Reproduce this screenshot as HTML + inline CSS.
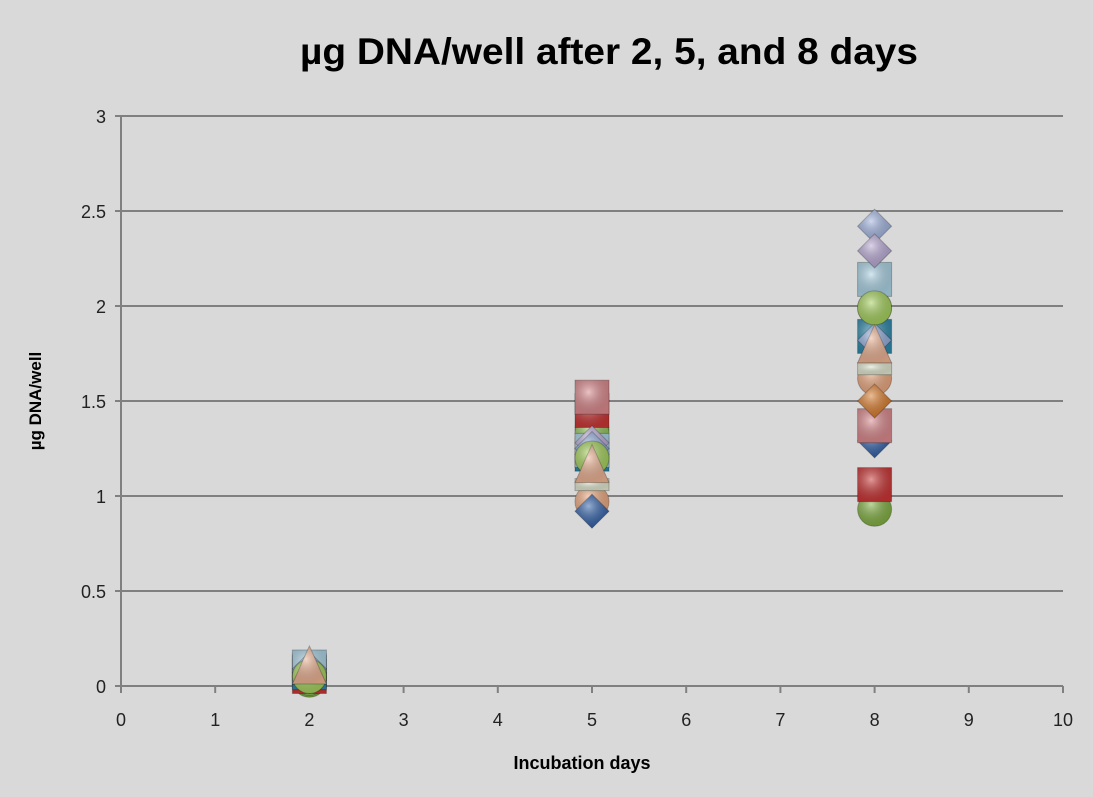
<!DOCTYPE html>
<html><head><meta charset="utf-8">
<style>
html,body{margin:0;padding:0;background:#d9d9d9;}
svg{display:block;font-family:"Liberation Sans",sans-serif;}
</style></head>
<body>
<svg id="chart" width="1093" height="797" viewBox="0 0 1093 797">
<rect width="1093" height="797" fill="#d9d9d9"/>
<text x="609" y="64" text-anchor="middle" font-size="37" font-weight="bold" fill="#000" textLength="618" lengthAdjust="spacingAndGlyphs">µg DNA/well after 2, 5, and 8 days</text>
<text transform="translate(41,401) rotate(-90)" text-anchor="middle" font-size="17" font-weight="bold">µg DNA/well</text>
<text x="582" y="769" text-anchor="middle" font-size="18" font-weight="bold">Incubation days</text>
<g id="grid"></g><g id="marks"></g>
<defs>
<radialGradient id="gl" cx="40%" cy="35%" r="70%"><stop offset="0" stop-color="#fff" stop-opacity="0.5"/><stop offset="1" stop-color="#000" stop-opacity="0.15"/></radialGradient>
</defs>
</svg>
<script>
const xTicks=[0,1,2,3,4,5,6,7,8,9,10];
const yTicks=[0,0.5,1,1.5,2,2.5,3];
const yTickLabels=["0","0.5","1","1.5","2","2.5","3"];
const days=[2,5,8];
const seriesShapes=["circle","circle","square","circle","diamond","square","diamond","square","dash","diamond","square","diamond","diamond","circle","triangle"];
const seriesColors=["#7fae3f","#8fc05a","#c93434","#e9a57c","#2f5fa8","#d9878b","#d87a2a","#2d86a8","#dfe6cf","#9fb2de","#a9d1e3","#b8a8d4","#8fa9d8","#a3cf5a","#eab091"];
const seriesDay2=[0.03,0.04,0.05,0.06,0.05,0.08,0.05,0.07,0.06,0.08,0.1,0.07,0.09,0.05,0.1];
const seriesDay5=[1.35,1.33,1.45,0.97,0.92,1.52,1.25,1.22,1.06,1.22,1.24,1.28,1.25,1.2,1.16];
const seriesDay8=[0.93,1.99,1.06,1.62,1.29,1.37,1.5,1.84,1.67,2.42,2.14,2.29,1.82,1.99,1.79];
const X0=121,X1=1063,Y0=686,Y1=116;
const sx=v=>X0+(v-0)/(10-0)*(X1-X0);
const sy=v=>Y0-(v-0)/(3-0)*(Y0-Y1);
const NS="http://www.w3.org/2000/svg";
const grid=document.getElementById('grid'),marks=document.getElementById('marks');
function mk(tag,attrs,parent){const e=document.createElementNS(NS,tag);for(const k in attrs)e.setAttribute(k,attrs[k]);parent.appendChild(e);return e;}
yTicks.forEach((t,i)=>{
  const l=mk('line',{x1:X0-6,x2:X1,y1:sy(t),y2:sy(t),stroke:'#808080','stroke-width':2},grid);
  
  
  const tx=mk('text',{x:X0-15,y:sy(t)+7,'text-anchor':'end','font-size':18,fill:'#222'},grid);
  tx.textContent=yTickLabels[i];
  
  
});
const ax=mk('line',{x1:X0,x2:X0,y1:Y1,y2:Y0,stroke:'#808080','stroke-width':2},grid);


xTicks.forEach(t=>{
  const l=mk('line',{x1:sx(t),x2:sx(t),y1:Y0,y2:Y0+7,stroke:'#808080','stroke-width':2},grid);
  
  
  const tx=mk('text',{x:sx(t),y:Y0+40,'text-anchor':'middle','font-size':18,fill:'#222'},grid);
  tx.textContent=String(t);
  
  
});
function marker(shape,color,cx,cy){
  const g=mk('g',{},marks);
  const r=17;let e;
  if(shape==='circle')e=mk('circle',{cx,cy,r},g);
  else if(shape==='square')e=mk('rect',{x:cx-r,y:cy-r,width:2*r,height:2*r},g);
  else if(shape==='diamond')e=mk('polygon',{points:`${cx},${cy-r} ${cx+r},${cy} ${cx},${cy+r} ${cx-r},${cy}`},g);
  else if(shape==='triangle')e=mk('polygon',{points:`${cx},${cy-r-4} ${cx+r},${cy+r} ${cx-r},${cy+r}`},g);
  else e=mk('rect',{x:cx-r,y:cy-6,width:2*r,height:12},g);
  e.setAttribute('fill',color);e.setAttribute('stroke','rgba(0,0,0,0.25)');
  const o=e.cloneNode();o.setAttribute('fill','url(#gl)');o.setAttribute('stroke','none');g.appendChild(o);
  return g;
}
[seriesDay2,seriesDay5,seriesDay8].forEach((arr,di)=>{
  arr.forEach((v,si)=>{
    const g=marker(seriesShapes[si],seriesColors[si],sx(days[di]),sy(v));
    
    
  });
});
</script>
</body></html>
